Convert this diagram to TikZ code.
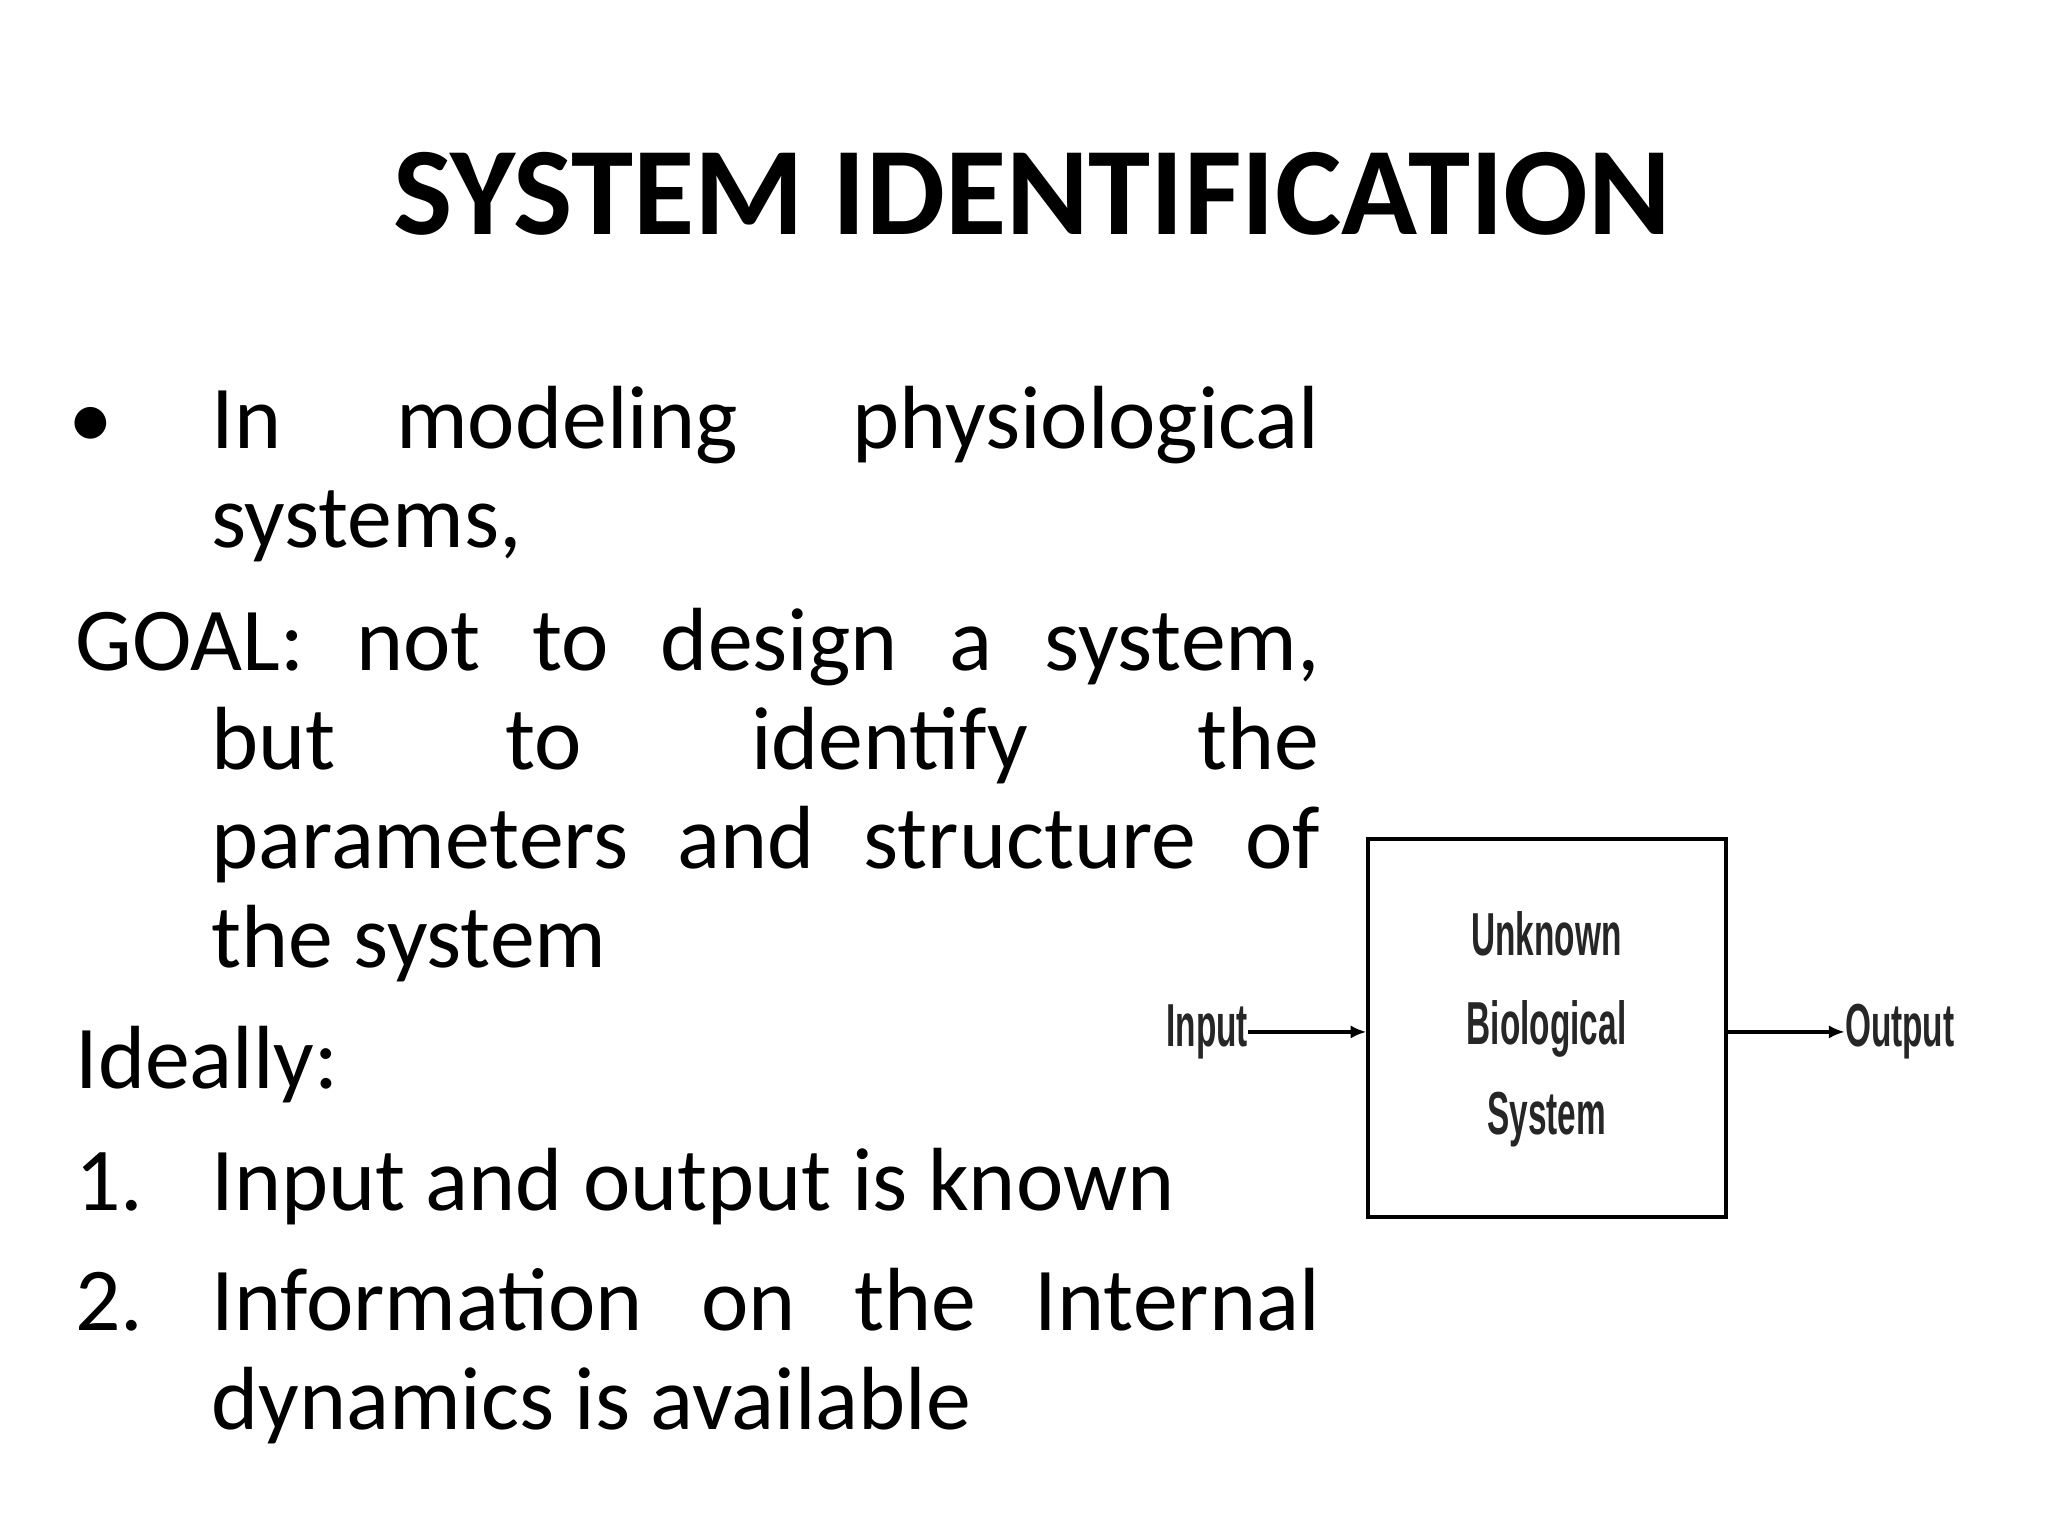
\documentclass[tikz,border=0pt]{standalone}
\usepackage{fontspec}
\setmainfont{Carlito}
\newfontfamily\narrowf{Liberation Sans}
\usetikzlibrary{arrows.meta}
\begin{document}
\begin{tikzpicture}[x=1pt,y=-1pt,
  body/.style={anchor=base west,inner sep=0,font=\fontsize{68}{75}\selectfont},
  blab/.style={inner sep=0,font=\narrowf\fontsize{46}{66}\selectfont,text=black!85},
  arr/.style={line width=2.5pt,-{Latex[length=12pt,width=10pt]}}]
\useasboundingbox (0,0) rectangle (1552,1164);
\node[inner sep=0,anchor=base,font=\bfseries\fontsize{95}{110}\selectfont] (title) at (782,178) {SYSTEM IDENTIFICATION};
\node[body] (b) at (52,340) {•};
\node[body] (l1) at (160,340) {\makebox[840pt][s]{In modeling physiological}};
\node[body] (l2) at (160,415) {systems,};
\node[body] (l3) at (57,508) {\makebox[943pt][s]{GOAL: not to design a system,}};
\node[body] (l4) at (160,583) {\makebox[840pt][s]{but to identify the}};
\node[body] (l5) at (160,658) {\makebox[840pt][s]{parameters and structure of}};
\node[body] (l6) at (160,733) {the system};
\node[body] (l7) at (57,825) {Ideally:};
\node[body] (n1) at (57,917) {1.};
\node[body] (l8) at (160,917) {Input and output is known};
\node[body] (n2) at (57,1008) {2.};
\node[body] (l9) at (160,1008) {\makebox[840pt][s]{Information on the Internal}};
\node[body] (l10) at (160,1083) {dynamics is available};
\node[draw,line width=3pt,minimum width=271pt,minimum height=286pt,inner sep=0] (sys) at (1172.5,779) {};
\node[blab,align=center] (st) at (1172,780) {\scalebox{0.55}[1]{\bfseries Unknown}\\[2pt]\scalebox{0.55}[1]{\bfseries Biological}\\[2pt]\scalebox{0.55}[1]{\bfseries System}};
\node[blab,anchor=east] (in) at (946,782) {\scalebox{0.55}[1]{\bfseries Input}};
\node[blab,anchor=west] (out) at (1398,782) {\scalebox{0.55}[1]{\bfseries Output}};
\draw[arr] (in.east) -- (sys.west|-in.east);
\draw[arr] (sys.east|-out.west) -- (out.west);
\end{tikzpicture}
\end{document}
